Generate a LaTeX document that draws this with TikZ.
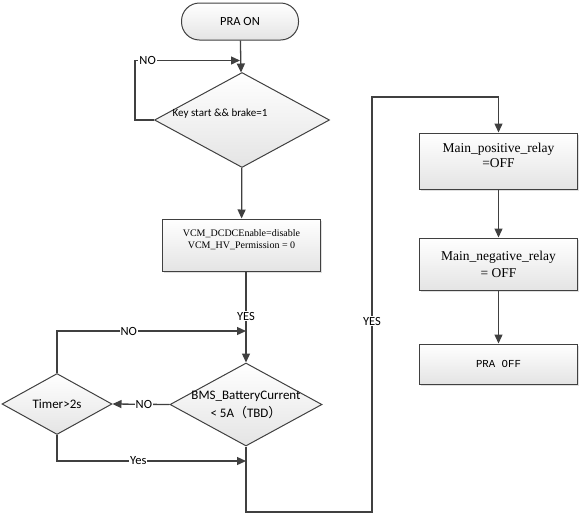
\documentclass[tikz,border=0pt]{standalone}
\usepackage{fontspec}
\setmainfont{Liberation Serif}
\setsansfont{Carlito}
\setmonofont{Liberation Mono}
\newfontfamily\cjk{Noto Sans CJK SC}
\usepackage{tikz}
\usetikzlibrary{arrows.meta,positioning,shapes.geometric,shadows}
\definecolor{linec}{HTML}{404040}
\definecolor{boxb}{HTML}{E4E4E4}

\begin{document}
\begin{tikzpicture}[x=1pt,y=-1pt,
    term/.style={draw=linec,line width=1pt,rounded corners=18pt,minimum width=117pt,minimum height=37pt,top color=white,bottom color=boxb,font=\sffamily\fontsize{12.5}{14}\selectfont},
    decide/.style={diamond,draw=linec,line width=1pt,top color=white,bottom color=boxb,inner sep=0pt},
    proc/.style={draw=linec,line width=1pt,top color=white,bottom color=boxb,minimum width=158pt,align=center,drop shadow={shadow xshift=1.5pt,shadow yshift=-1.5pt,opacity=0.25}},
    arr/.style={-{Triangle[length=9pt,width=8pt]},line width=1.3pt,draw=linec},
    lbl/.style={fill=white,inner sep=1pt,font=\sffamily\fontsize{12.5}{14}\selectfont,text=black}
]
\useasboundingbox (0,0) rectangle (580,528);

% left column
\node[term] (start) at (240,21.5) {PRA ON};
\node[decide,minimum width=175pt,minimum height=95pt,
      label={[font=\sffamily\fontsize{11}{13}\selectfont,xshift=-22pt,yshift=6pt]center:Key start \&\& brake=1}] (keychk) at (242,120) {};
\node[proc,minimum height=52pt,font=\fontsize{10}{12}\selectfont] (dcdc) at (241.5,245)
    {VCM\_DCDCEnable=disable\\VCM\_HV\_Permission = 0\\\mbox{}};
\node[decide,minimum width=152pt,minimum height=83pt,
      label={[align=center,font=\sffamily\fontsize{13}{18}\selectfont]center:BMS\_BatteryCurrent\\< 5A{\cjk （}TBD{\cjk ）}}] (bmschk) at (246,404.5) {};
\node[decide,minimum width=110pt,minimum height=61pt,
      label={[font=\sffamily\fontsize{13}{15}\selectfont]center:Timer>2s}] (timer) at (57,404) {};

% right column
\node[proc,minimum height=56pt,font=\fontsize{13.5}{15}\selectfont] (posrel) at (498.5,161)
    {Main\_positive\_relay\\=OFF\\[-4pt]\mbox{}};
\node[proc,minimum height=52pt,font=\fontsize{13.5}{17}\selectfont,below=48pt of posrel] (negrel)
    {Main\_negative\_relay\\= OFF};
\node[proc,minimum height=40pt,font=\ttfamily\fontsize{10.7}{12}\selectfont,below=53pt of negrel] (praoff) {PRA OFF};

\coordinate (merge1) at ([yshift=-20pt]start.south);
\coordinate (merge2) at (bmschk.north |- 0,331);
\coordinate (merge3) at (bmschk.north |- 0,461);
\coordinate (cbot) at (372,512);
\coordinate (ctop) at (372,97);

\draw[arr] (start) -- (keychk);
\draw[arr] (keychk.west) -- ++(-19,0) |- node[lbl,pos=0.56] {NO} (merge1);
\draw[arr] (keychk) -- (dcdc);
\draw[arr] (dcdc.south -| bmschk.north) -- node[lbl,pos=0.49] {YES} (bmschk.north);
\draw[arr] (bmschk.west) -- node[lbl,pos=0.45] {NO} (timer.east);
\draw[arr] (timer.north) |- node[lbl,pos=0.69] {NO} (merge2);
\draw[arr] (timer.south) |- node[lbl,pos=0.715] {Yes} (merge3);
\draw[arr] (bmschk.south) |- (cbot) -- node[lbl,pos=0.46] {YES} (ctop) -| (posrel.north);
\draw[arr] (posrel) -- (negrel);
\draw[arr] (negrel) -- (praoff);
\end{tikzpicture}
\end{document}
